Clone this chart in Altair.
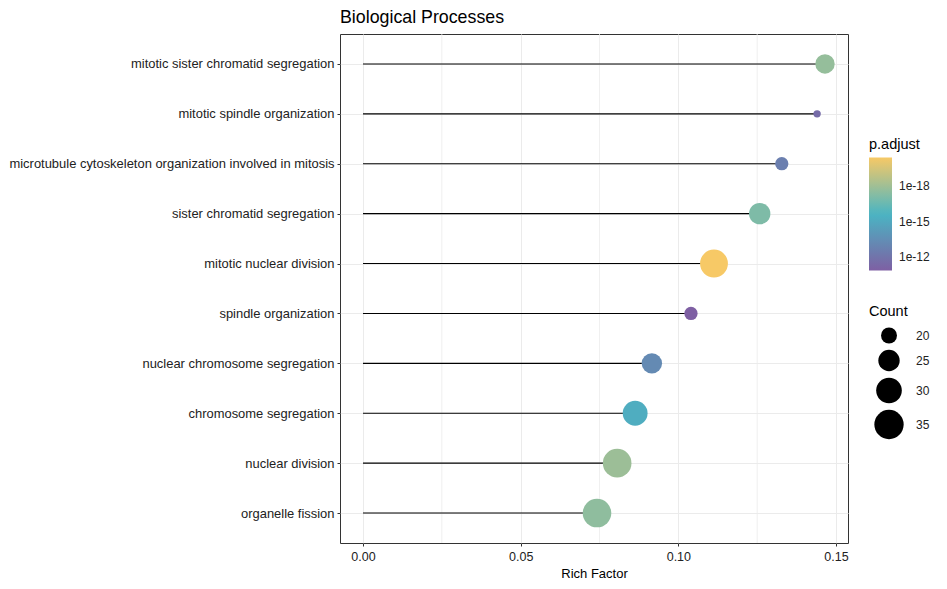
import altair as alt
import pandas as pd

terms = [
    "mitotic sister chromatid segregation",
    "mitotic spindle organization",
    "microtubule cytoskeleton organization involved in mitosis",
    "sister chromatid segregation",
    "mitotic nuclear division",
    "spindle organization",
    "nuclear chromosome segregation",
    "chromosome segregation",
    "nuclear division",
    "organelle fission",
]
rich_factor = [0.1465, 0.1440, 0.1328, 0.1258, 0.1113, 0.1040, 0.0916, 0.0863, 0.0806, 0.0742]
counts = [23, 15, 18, 25, 33, 18, 24, 29, 34, 34]
p_adjust = [2.0e-18, 2.5e-12, 2.2e-13, 8.5e-18, 4.0e-21, 1.26e-11, 5.0e-14, 6.3e-16, 1.26e-18, 2.8e-18]
x_ticks = [0, 0.05, 0.10, 0.15]
x_minor = [0.025, 0.075, 0.125]
p_tick_exponents = [18, 15, 12]
count_ticks = [20, 25, 30, 35]
palette = ["#7E5FA3", "#4AB5C3", "#F7C966"]

df = pd.DataFrame({"term": terms, "rich": rich_factor, "count": counts, "padj": p_adjust})
minor_df = pd.DataFrame({"m": x_minor})

FONT = "Liberation Sans"
xscale = alt.Scale(domain=[-0.0073, 0.1538], nice=False, zero=False)

minor = alt.Chart(minor_df).mark_rule(color="#EBEBEB", strokeWidth=0.8).encode(
    x=alt.X("m:Q", scale=xscale)
)

rules = alt.Chart(df).mark_rule(color="black", strokeWidth=1.1).encode(
    x=alt.X(
        "rich:Q",
        scale=xscale,
        title="Rich Factor",
        axis=alt.Axis(values=x_ticks, format=".2f", grid=True, gridColor="#EBEBEB",
                      domain=False, tickColor="#333333", tickSize=3,
                      labelPadding=4, titlePadding=5, labelFontSize=12.5),
    ),
    x2=alt.X2(datum=0),
    y=alt.Y(
        "term:N",
        sort=terms,
        title=None,
        scale=alt.Scale(type="point", padding=0.6),
        axis=alt.Axis(grid=True, gridColor="#EBEBEB", domain=False, labelLimit=0,
                      tickColor="#333333", tickSize=3, labelPadding=3, labelFontSize=12.95),
    ),
)

points = alt.Chart(df).transform_calculate(
    nlp="-log(datum.padj)/LN10"
).mark_circle(opacity=1).encode(
    x=alt.X("rich:Q", scale=xscale),
    y=alt.Y("term:N", sort=terms),
    color=alt.Color(
        "nlp:Q",
        scale=alt.Scale(domain=[10.9, 20.4], range=palette, interpolate="rgb", zero=False, nice=False),
        legend=alt.Legend(title="p.adjust", values=p_tick_exponents,
                          labelExpr="'1e-' + datum.value",
                          gradientLength=113, gradientThickness=23,
                          gradientStrokeWidth=0, orient="none", legendX=529, legendY=104,
                          labelOffset=7, titlePadding=5),
    ),
    size=alt.Size(
        "count:Q",
        scale=alt.Scale(domain=[15, 35], range=[55, 858], zero=False),
        legend=alt.Legend(title="Count", values=count_ticks, symbolFillColor="black",
                          symbolStrokeWidth=0, symbolOpacity=1, orient="none",
                          legendX=529, legendY=271, rowPadding=6, symbolOffset=5,
                          labelOffset=12, titlePadding=8),
    ),
)

chart = (
    alt.layer(minor, rules, points)
    .properties(
        width=508,
        height=509,
        padding=0,
        title=alt.Title("Biological Processes", anchor="start", frame="group",
                        fontSize=17.8, fontWeight="normal", font=FONT, color="black", offset=7),
    )
    .configure(font=FONT)
    .configure_view(stroke="#333333", strokeWidth=1)
    .configure_axis(labelFont=FONT, labelColor="#222222",
                    titleFont=FONT, titleFontSize=13, titleFontWeight="normal", titleColor="black")
    .configure_legend(titleFont=FONT, titleFontSize=14.5, titleFontWeight="normal", titleColor="black",
                      labelFont=FONT, labelFontSize=12, labelColor="#222222")
)

chart.save("out.html", embed_options={"renderer": "svg", "actions": False})
